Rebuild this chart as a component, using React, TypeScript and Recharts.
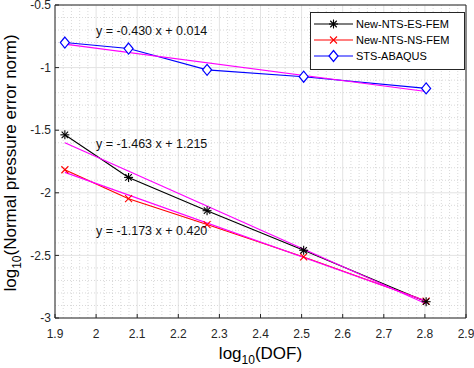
import { CartesianGrid, ComposedChart, Line, ReferenceDot, ReferenceLine, XAxis, YAxis } from "recharts";

const LOG_DOF = [1.924, 2.079, 2.27, 2.505, 2.803];
const ES_FEM = [-1.537, -1.877, -2.143, -2.459, -2.87];
const NS_FEM = [-1.816, -2.047, -2.254, -2.512, -2.865];
const STS_ABAQUS = [-0.8, -0.848, -1.018, -1.073, -1.166];

// end points of the fitted lines
const FIT_X = [1.924, 2.803];
const FIT_ES = [-1.6, -2.886];
const FIT_NS = [-1.837, -2.864];
const FIT_STS = [-0.813, -1.191];

const X_TICKS = [1.9, 2, 2.1, 2.2, 2.3, 2.4, 2.5, 2.6, 2.7, 2.8, 2.9];
const Y_TICKS = [-3, -2.5, -2, -1.5, -1, -0.5];

const EQUATIONS = [
  { x: 2.0, y: -0.707, text: "y = -0.430 x + 0.014" },
  { x: 2.0, y: -1.612, text: "y = -1.463 x + 1.215" },
  { x: 2.0, y: -2.307, text: "y = -1.173 x + 0.420" },
];

const SERIES_NAMES = ["New-NTS-ES-FEM", "New-NTS-NS-FEM", "STS-ABAQUS"];
const SERIES_COLORS = ["#000000", "#ff0000", "#0000ff"];

const FONT = '"Liberation Sans", Arial, sans-serif';
const AXIS_COLOR = "#262626";
const FIT_COLOR = "#ff00ff";

const W = 474;
const H = 368;

const toPoints = (xs: number[], ys: number[]) => xs.map((x, i) => ({ x, y: ys[i] }));

// minor grid positions (0.02 on x, 0.1 on y)
const minorX: number[] = [];
for (let i = 0; i <= 50; i++) {
  if (i % 5 !== 0) minorX.push(+(1.9 + i * 0.02).toFixed(2));
}
const minorY: number[] = [];
for (let i = 0; i <= 25; i++) {
  if (i % 5 !== 0) minorY.push(+(-3 + i * 0.1).toFixed(1));
}

function Asterisk({ cx, cy, color, s = 4.5 }: { cx: number; cy: number; color: string; s?: number }) {
  const d = s * 0.72;
  return (
    <g stroke={color} strokeWidth={1.1}>
      <line x1={cx - s} y1={cy} x2={cx + s} y2={cy} />
      <line x1={cx} y1={cy - s} x2={cx} y2={cy + s} />
      <line x1={cx - d} y1={cy - d} x2={cx + d} y2={cy + d} />
      <line x1={cx - d} y1={cy + d} x2={cx + d} y2={cy - d} />
    </g>
  );
}

function Cross({ cx, cy, color, s = 3.5 }: { cx: number; cy: number; color: string; s?: number }) {
  return (
    <g stroke={color} strokeWidth={1.1}>
      <line x1={cx - s} y1={cy - s} x2={cx + s} y2={cy + s} />
      <line x1={cx - s} y1={cy + s} x2={cx + s} y2={cy - s} />
    </g>
  );
}

function Diamond({ cx, cy, color }: { cx: number; cy: number; color: string }) {
  return (
    <path
      d={`M${cx},${cy - 5.5} L${cx + 4.5},${cy} L${cx},${cy + 5.5} L${cx - 4.5},${cy} Z`}
      fill="#ffffff"
      stroke={color}
      strokeWidth={1.2}
    />
  );
}

function marker(kind: number, cx: number, cy: number) {
  const color = SERIES_COLORS[kind];
  if (kind === 0) return <Asterisk cx={cx} cy={cy} color={color} />;
  if (kind === 1) return <Cross cx={cx} cy={cy} color={color} />;
  return <Diamond cx={cx} cy={cy} color={color} />;
}

function LegendBox() {
  return (
    <svg width={156} height={59} style={{ position: "absolute", left: 310, top: 12 }}>
      <rect x={0.5} y={0.5} width={154} height={57} fill="#ffffff" stroke={AXIS_COLOR} strokeWidth={1} />
      {SERIES_NAMES.map((name, i) => {
        const cy = 12 + i * 16;
        return (
          <g key={name}>
            <line x1={4} x2={43} y1={cy} y2={cy} stroke={SERIES_COLORS[i]} strokeWidth={1.1} />
            {marker(i, 23.5, cy)}
            <text x={46} y={cy} dominantBaseline="central" fontSize={11} fontFamily={FONT} fill="#000">
              {name}
            </text>
          </g>
        );
      })}
    </svg>
  );
}

export default function App() {
  const tickStyle = { fill: AXIS_COLOR, fontSize: 12, fontFamily: FONT };

  return (
    <div style={{ position: "fixed", left: 0, top: 0, width: W, height: H, background: "#fff" }}>
      <ComposedChart width={W} height={H} margin={{ top: 1, right: 0, bottom: 0, left: 0 }}>
        <CartesianGrid stroke="#e3e3e3" strokeWidth={1} />
        {minorX.map((v) => (
          <ReferenceLine key={`mx${v}`} x={v} stroke="#cfcfcf" strokeDasharray="1 2" strokeWidth={0.8} />
        ))}
        {minorY.map((v) => (
          <ReferenceLine key={`my${v}`} y={v} stroke="#cfcfcf" strokeDasharray="1 2" strokeWidth={0.8} />
        ))}

        <XAxis
          dataKey="x"
          type="number"
          domain={[1.9, 2.9]}
          ticks={X_TICKS}
          interval={0}
          allowDataOverflow
          height={50}
          tickSize={-4}
          tickMargin={15}
          stroke={AXIS_COLOR}
          tick={tickStyle}
          label={{
            content: ({ viewBox }: any) => (
              <text
                x={viewBox.x + viewBox.width / 2}
                y={viewBox.y + 41}
                textAnchor="middle"
                fontSize={17}
                fontFamily={FONT}
                fill="#000"
              >
                log
                <tspan fontSize={12} dy={5}>10</tspan>
                <tspan fontSize={17} dy={-5}>(DOF)</tspan>
              </text>
            ),
          }}
        />
        <XAxis
          xAxisId="top"
          orientation="top"
          type="number"
          domain={[1.9, 2.9]}
          ticks={X_TICKS}
          interval={0}
          allowDataOverflow
          height={4}
          tickSize={-4}
          tick={false}
          stroke={AXIS_COLOR}
        />
        <YAxis
          type="number"
          domain={[-3, -0.5]}
          ticks={Y_TICKS}
          interval={0}
          allowDataOverflow
          width={55}
          tickSize={-4}
          tickMargin={8}
          stroke={AXIS_COLOR}
          tick={tickStyle}
          label={{
            content: () => (
              <text
                x={16}
                y={163}
                transform="rotate(-90 16 163)"
                textAnchor="middle"
                fontSize={17}
                fontFamily={FONT}
                fill="#000"
              >
                log
                <tspan fontSize={12} dy={5}>10</tspan>
                <tspan fontSize={17} dy={-5}>(Normal pressure error norm)</tspan>
              </text>
            ),
          }}
        />
        <YAxis
          yAxisId="right"
          orientation="right"
          type="number"
          domain={[-3, -0.5]}
          ticks={Y_TICKS}
          interval={0}
          allowDataOverflow
          width={8}
          tickSize={-4}
          tick={false}
          stroke={AXIS_COLOR}
        />

        <Line data={toPoints(LOG_DOF, STS_ABAQUS)} dataKey="y" stroke={SERIES_COLORS[2]} strokeWidth={1.1} isAnimationActive={false} dot={false} />
        <Line data={toPoints(LOG_DOF, ES_FEM)} dataKey="y" stroke={SERIES_COLORS[0]} strokeWidth={1.1} isAnimationActive={false} dot={false} />
        <Line data={toPoints(LOG_DOF, NS_FEM)} dataKey="y" stroke={SERIES_COLORS[1]} strokeWidth={1.1} isAnimationActive={false} dot={false} />

        <Line data={toPoints(FIT_X, FIT_STS)} dataKey="y" stroke={FIT_COLOR} strokeWidth={1.2} dot={false} isAnimationActive={false} />
        <Line data={toPoints(FIT_X, FIT_ES)} dataKey="y" stroke={FIT_COLOR} strokeWidth={1.2} dot={false} isAnimationActive={false} />
        <Line data={toPoints(FIT_X, FIT_NS)} dataKey="y" stroke={FIT_COLOR} strokeWidth={1.2} dot={false} isAnimationActive={false} />

        {/* markers on top */}
        <Line
          data={toPoints(LOG_DOF, STS_ABAQUS)}
          dataKey="y"
          stroke="none"
          isAnimationActive={false}
          dot={(p: any) => <g key={`sts${p.index}`}>{marker(2, p.cx, p.cy)}</g>}
        />
        <Line
          data={toPoints(LOG_DOF, NS_FEM)}
          dataKey="y"
          stroke="none"
          isAnimationActive={false}
          dot={(p: any) => <g key={`ns${p.index}`}>{marker(1, p.cx, p.cy)}</g>}
        />
        <Line
          data={toPoints(LOG_DOF, ES_FEM)}
          dataKey="y"
          stroke="none"
          isAnimationActive={false}
          dot={(p: any) => <g key={`es${p.index}`}>{marker(0, p.cx, p.cy)}</g>}
        />

        {EQUATIONS.map((eq) => (
          <ReferenceDot
            key={eq.text}
            x={eq.x}
            y={eq.y}
            r={0}
            shape={(p: any) => (
              <text x={p.cx} y={p.cy} dominantBaseline="central" fontSize={12.5} fontFamily={FONT} fill="#111">
                {eq.text}
              </text>
            )}
          />
        ))}
      </ComposedChart>
      <LegendBox />
    </div>
  );
}
